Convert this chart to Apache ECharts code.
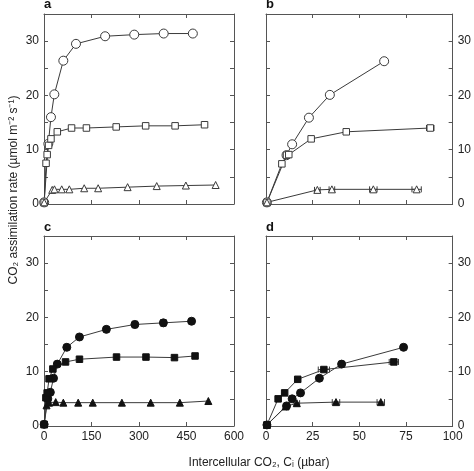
<!DOCTYPE html>
<html><head><meta charset="utf-8">
<script src="https://cdn.jsdelivr.net/npm/echarts@6/dist/echarts.min.js"></script>
<style>html,body{margin:0;padding:0;background:#fff}#c{width:474px;height:471px}</style>
</head><body><div id="c"></div><script>
// Panel a (open symbols)
const aCircX = [0.5, 13.7, 22, 32.6, 61, 101, 193, 285, 378, 470];
const aCircY = [0.3, 11.1, 16.0, 20.2, 26.4, 29.5, 30.9, 31.2, 31.4, 31.4];
const aSqX = [0.5, 6.5, 10, 14.5, 22, 42, 87, 134, 228, 321, 414, 507];
const aSqY = [0.3, 7.5, 9.1, 10.8, 12.0, 13.3, 14.0, 14.0, 14.2, 14.4, 14.4, 14.6];
const aTriX = [0.5, 26, 33, 56, 80, 127, 171, 264, 356, 448, 542];
const aTriY = [0.3, 2.6, 2.7, 2.7, 2.7, 2.9, 2.9, 3.1, 3.3, 3.4, 3.5];
// Panel b (open symbols)
const bCircX = [0.5, 11, 14, 23, 34.2, 63.3];
const bCircY = [0.3, 9.0, 11.0, 15.9, 20.1, 26.3];
const bSqX = [0.5, 8.5, 11, 12.2, 24.2, 43, 88];
const bSqY = [0.3, 7.4, 9.0, 9.1, 12.0, 13.3, 14.0];
const bSqXErr = [0, 0, 0, 0, 0, 0, 2];
const bTriX = [0.5, 27.5, 35.3, 57.5, 80.7];
const bTriY = [0.3, 2.6, 2.7, 2.7, 2.7];
const bTriXErr = [0, 1.5, 1.5, 2, 2.5];
// Panel c (filled symbols)
const cCircX = [0.5, 12, 20, 30, 42, 72, 112, 197, 287, 377, 466];
const cCircY = [0.3, 5.0, 6.2, 8.8, 11.4, 14.5, 16.4, 17.8, 18.7, 19.0, 19.3];
const cCircYErr = [0, 0, 0, 0, 0, 0.3, 0.4, 0.5, 0.6, 0.6, 0.4];
const cSqX = [0.5, 6, 10, 16, 28, 68, 112, 229, 322, 412, 477];
const cSqY = [0.3, 5.2, 6.1, 8.7, 10.5, 11.8, 12.3, 12.7, 12.7, 12.6, 12.9];
const cTriX = [0.5, 8, 16, 37, 61, 108, 154, 246, 337, 429, 519];
const cTriY = [0.3, 3.8, 4.3, 4.4, 4.3, 4.3, 4.3, 4.3, 4.3, 4.3, 4.6];
// Panel d (filled symbols)
const dCircX = [0.5, 11, 14, 18.5, 28.6, 40.5, 73.7];
const dCircY = [0.2, 3.7, 5.0, 6.1, 8.8, 11.4, 14.5];
const dSqX = [0.5, 6.5, 10, 17, 31, 68.5];
const dSqY = [0.2, 5.0, 6.1, 8.6, 10.4, 11.8];
const dSqXErr = [0, 0, 0, 1.5, 3, 2.5];
const dTriX = [0.5, 10.5, 16.5, 37.5, 61.5];
const dTriY = [0.2, 3.6, 4.2, 4.4, 4.4];
const dTriXErr = [0, 0, 1.5, 2, 2];

const panelLetters = ['a', 'b', 'c', 'd'];
const xMaxes = [600, 100, 600, 100];
const xIntervals = [150, 25, 150, 25];
const yMax = 35, yInterval = 5;

const FONT = 'Liberation Sans, Arial, Helvetica, sans-serif';
const INK = '#3a3a3a';
const grids = [
  {left: 44, top: 14, width: 190, height: 190},
  {left: 266, top: 14, width: 190, height: 190},
  {left: 44, top: 236, width: 190, height: 190},
  {left: 266, top: 236, width: 190, height: 190}
];

const xAxes = [], yAxes = [];
grids.forEach((g, i) => {
  const showX = i >= 2;
  const leftLabels = (i % 2 === 0);
  const base = {
    type: 'value', gridIndex: i, min: 0, max: xMaxes[i], interval: xIntervals[i],
    axisLine: {show: true, onZero: false, lineStyle: {color: '#555', width: 1}},
    axisTick: {show: true, inside: true, length: 4, lineStyle: {color: '#555'}},
    splitLine: {show: false}
  };
  xAxes.push(Object.assign({}, base, {position: 'bottom',
    axisLabel: {show: showX, color: '#222', fontSize: 12, fontFamily: FONT, margin: 5}}));
  xAxes.push(Object.assign({}, base, {position: 'top', axisLabel: {show: false}}));
  const ybase = {
    type: 'value', gridIndex: i, min: 0, max: yMax, interval: yInterval,
    axisLine: {show: true, onZero: false, lineStyle: {color: '#555', width: 1}},
    axisTick: {show: true, inside: true, length: 4, lineStyle: {color: '#555'}},
    splitLine: {show: false}
  };
  const lab = {color: '#222', fontSize: 12, fontFamily: FONT, margin: 5,
    formatter: v => (v % 10 === 0 ? String(v) : '')};
  yAxes.push(Object.assign({}, ybase, {position: 'left',
    axisLabel: Object.assign({}, lab, {show: leftLabels})}));
  yAxes.push(Object.assign({}, ybase, {position: 'right',
    axisLabel: Object.assign({}, lab, {show: !leftLabels})}));
});

function pairs(xs, ys) { return xs.map((x, k) => [x, ys[k]]); }
function lineSeries(panel, xs, ys, symbol, size, filled) {
  return {
    type: 'line', xAxisIndex: panel * 2, yAxisIndex: panel * 2,
    data: pairs(xs, ys), symbol: symbol, symbolSize: size, showSymbol: true,
    lineStyle: {color: INK, width: 1}, z: 3,
    itemStyle: {color: filled ? '#111' : '#fff', borderColor: filled ? '#111' : INK, borderWidth: 1},
    emphasis: {disabled: true}, animation: false
  };
}
function errSeries(panel, xs, ys, xerr, yerr) {
  const data = xs.map((x, k) => [x, ys[k], xerr ? xerr[k] : 0, yerr ? yerr[k] : 0]);
  return {
    type: 'custom', xAxisIndex: panel * 2, yAxisIndex: panel * 2, z: 2, animation: false,
    data: data,
    renderItem: (params, api) => {
      const x = api.value(0), y = api.value(1), ex = api.value(2), ey = api.value(3);
      const children = [];
      const st = {stroke: INK, lineWidth: 1};
      if (ex > 0) {
        const p1 = api.coord([x - ex, y]), p2 = api.coord([x + ex, y]);
        children.push({type: 'line', shape: {x1: p1[0], y1: p1[1], x2: p2[0], y2: p2[1]}, style: st});
        children.push({type: 'line', shape: {x1: p1[0], y1: p1[1] - 3, x2: p1[0], y2: p1[1] + 3}, style: st});
        children.push({type: 'line', shape: {x1: p2[0], y1: p2[1] - 3, x2: p2[0], y2: p2[1] + 3}, style: st});
      }
      if (ey > 0) {
        const p1 = api.coord([x, y - ey]), p2 = api.coord([x, y + ey]);
        children.push({type: 'line', shape: {x1: p1[0], y1: p1[1], x2: p2[0], y2: p2[1]}, style: st});
        children.push({type: 'line', shape: {x1: p1[0] - 3, y1: p1[1], x2: p1[0] + 3, y2: p1[1]}, style: st});
        children.push({type: 'line', shape: {x1: p2[0] - 3, y1: p2[1], x2: p2[0] + 3, y2: p2[1]}, style: st});
      }
      return {type: 'group', children: children};
    }
  };
}

const series = [
  lineSeries(0, aCircX, aCircY, 'circle', 9, false),
  lineSeries(0, aSqX, aSqY, 'rect', 6.5, false),
  lineSeries(0, aTriX, aTriY, 'triangle', 7, false),
  errSeries(1, bSqX, bSqY, bSqXErr, null),
  errSeries(1, bTriX, bTriY, bTriXErr, null),
  lineSeries(1, bCircX, bCircY, 'circle', 9, false),
  lineSeries(1, bSqX, bSqY, 'rect', 6.5, false),
  lineSeries(1, bTriX, bTriY, 'triangle', 7, false),
  errSeries(2, cCircX, cCircY, null, cCircYErr),
  lineSeries(2, cCircX, cCircY, 'circle', 8, true),
  lineSeries(2, cSqX, cSqY, 'rect', 6.5, true),
  lineSeries(2, cTriX, cTriY, 'triangle', 7, true),
  errSeries(3, dSqX, dSqY, dSqXErr, null),
  errSeries(3, dTriX, dTriY, dTriXErr, null),
  lineSeries(3, dCircX, dCircY, 'circle', 8, true),
  lineSeries(3, dSqX, dSqY, 'rect', 6.5, true),
  lineSeries(3, dTriX, dTriY, 'triangle', 7, true)
];

const letterPos = [[44, 5], [266, 5], [44, 228], [266, 228]];
const graphics = panelLetters.map((t, i) => ({
  type: 'text', left: letterPos[i][0], top: letterPos[i][1] - 7,
  style: {text: t, font: 'bold 13px ' + FONT, fill: '#111'}
}));
graphics.push({
  type: 'text', x: 14, y: 190, rotation: Math.PI / 2,
  style: {text: 'CO₂ assimilation rate (µmol m⁻² s⁻¹)', font: '12px ' + FONT, fill: '#222',
    align: 'center', verticalAlign: 'middle'}
});
graphics.push({
  type: 'text', x: 259, y: 463,
  style: {text: 'Intercellular CO₂, Cᵢ (µbar)', font: '12px ' + FONT, fill: '#222',
    align: 'center', verticalAlign: 'middle'}
});

const chart = echarts.init(document.getElementById('c'), null, {renderer: 'canvas'});
chart.setOption({
  animation: false,
  backgroundColor: '#fff',
  grid: grids,
  xAxis: xAxes,
  yAxis: yAxes,
  series: series,
  graphic: graphics
});
</script></body></html>
